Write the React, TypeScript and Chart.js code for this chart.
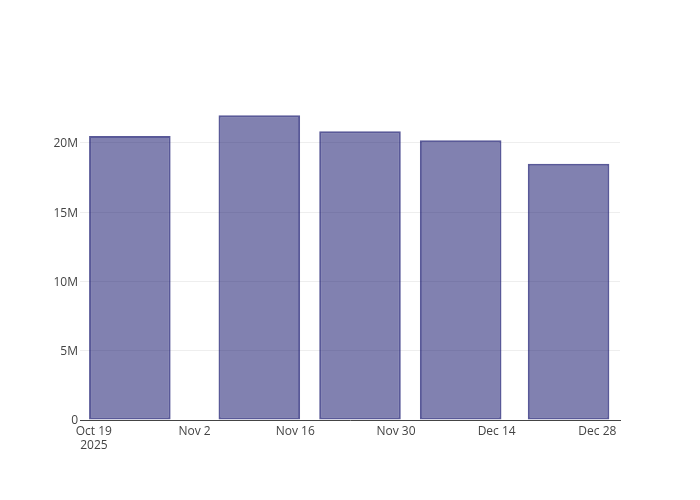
import React, { useEffect, useRef } from 'react';
import { Chart, registerables } from 'chart.js';

Chart.register(...registerables);

// bar dates and values
const barDates = ['2025-10-24', '2025-11-11', '2025-11-25', '2025-12-09', '2025-12-24'];
const barValues = [20.5e6, 22.0e6, 20.85e6, 20.2e6, 18.5e6];

// x axis ticks and range
const tickDates = ['2025-10-19', '2025-11-02', '2025-11-16', '2025-11-30', '2025-12-14', '2025-12-28'];
const xRange = ['2025-10-17', '2025-12-31'];
const yTicks = [0, 5e6, 10e6, 15e6, 20e6];
const yMax = 23.1e6;

const MONTHS = ['Jan', 'Feb', 'Mar', 'Apr', 'May', 'Jun', 'Jul', 'Aug', 'Sep', 'Oct', 'Nov', 'Dec'];

const toDay = (s: string) => {
  const [y, m, d] = s.split('-').map(Number);
  return Date.UTC(y, m - 1, d) / 86400000;
};

const fmtDay = (v: number, first: boolean) => {
  const dt = new Date(v * 86400000);
  const lbl = `${MONTHS[dt.getUTCMonth()]} ${dt.getUTCDate()}`;
  return first ? [lbl, String(dt.getUTCFullYear())] : lbl;
};

const fmtY = (v: number) => (v === 0 ? '0' : `${v / 1e6}M`);

const App: React.FC = () => {
  const canvasRef = useRef<HTMLCanvasElement | null>(null);

  useEffect(() => {
    document.body.style.margin = '0';
    const canvas = canvasRef.current;
    if (!canvas) return;

    Chart.defaults.font.family = '"Open Sans", verdana, arial, sans-serif';
    Chart.defaults.font.size = 12;
    Chart.defaults.color = '#444';

    const firstTick = toDay(tickDates[0]);

    const chart = new Chart(canvas, {
      type: 'bar',
      data: {
        datasets: [{
          data: barDates.map((d, i) => ({ x: toDay(d), y: barValues[i] })),
          backgroundColor: 'rgba(25, 25, 112, 0.55)',
          borderColor: 'rgba(25, 25, 112, 0.72)',
          borderWidth: 2,
          borderSkipped: false,
          categoryPercentage: 1,
          barPercentage: 0.81
        }]
      },
      options: {
        responsive: false,
        animation: false,
        layout: { padding: { left: 0, right: 80, top: 100, bottom: 0 } },
        plugins: {
          legend: { display: false },
          tooltip: { enabled: false }
        },
        scales: {
          x: {
            type: 'linear',
            offset: false,
            min: toDay(xRange[0]) + 0.07,
            max: toDay(xRange[1]) + 0.15,
            grid: { display: false, drawTicks: false, offset: false },
            border: { display: true, color: '#444', width: 1 },
            afterBuildTicks: (scale: any) => {
              scale.ticks = tickDates.map(d => ({ value: toDay(d) }));
            },
            afterFit: (scale: any) => { scale.height = 80; },
            ticks: {
              padding: 4,
              maxRotation: 0,
              autoSkip: false,
              callback: (v: any) => fmtDay(Number(v), Number(v) === firstTick)
            }
          },
          y: {
            min: 0,
            max: yMax,
            grid: { color: '#eee', drawTicks: false },
            border: { display: false },
            afterBuildTicks: (scale: any) => {
              scale.ticks = yTicks.map(v => ({ value: v }));
            },
            afterFit: (scale: any) => { scale.width = 80; },
            ticks: {
              padding: 2,
              labelOffset: 1,
              callback: (v: any) => fmtY(Number(v))
            }
          }
        }
      }
    });

    return () => chart.destroy();
  }, []);

  return (
    <div style={{ width: 700, height: 500, background: '#fff' }}>
      <canvas ref={canvasRef} width={700} height={500} />
    </div>
  );
};

export default App;
